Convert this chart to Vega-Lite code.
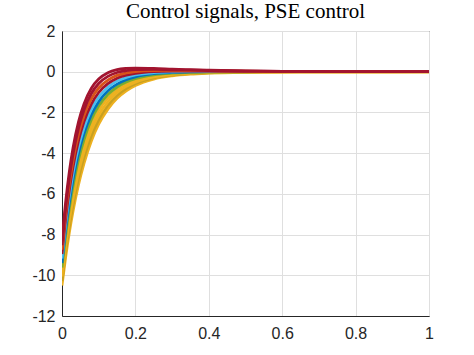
{
  "$schema": "https://vega.github.io/schema/vega-lite/v6.json",
  "width": 367,
  "height": 285,
  "autosize": {"type": "none"},
  "padding": {"left": 62, "top": 31, "right": 45, "bottom": 39},
  "background": "#ffffff",
  "view": {"stroke": "#262626", "strokeWidth": 1},
  "title": {"text": "Control signals, PSE control", "font": "Liberation Serif", "fontSize": 21, "fontWeight": "normal", "color": "#000000", "offset": 8, "dy": 7, "anchor": "middle"},
  "datasets": {
    "sig": [
      {"k":10,"t":0,"u":-10.50},{"k":10,"t":0.01,"u":-9.11},{"k":10,"t":0.02,"u":-7.90},{"k":10,"t":0.03,"u":-6.86},{"k":10,"t":0.045,"u":-5.55},{"k":10,"t":0.06,"u":-4.50},{"k":10,"t":0.08,"u":-3.40},{"k":10,"t":0.1,"u":-2.58},{"k":10,"t":0.125,"u":-1.84},{"k":10,"t":0.15,"u":-1.31},{"k":10,"t":0.175,"u":-0.94},{"k":10,"t":0.2,"u":-0.68},{"k":10,"t":0.25,"u":-0.36},{"k":10,"t":0.3,"u":-0.2},{"k":10,"t":0.35,"u":-0.115},{"k":10,"t":0.4,"u":-0.07},{"k":10,"t":0.5,"u":-0.027},{"k":10,"t":0.6,"u":-0.013},{"k":10,"t":0.7,"u":-0.006},{"k":10,"t":0.8,"u":-0.003},{"k":10,"t":1,"u":-0.001},
      {"k":9,"t":0,"u":-10.28},{"k":9,"t":0.01,"u":-8.84},{"k":9,"t":0.02,"u":-7.60},{"k":9,"t":0.03,"u":-6.55},{"k":9,"t":0.045,"u":-5.24},{"k":9,"t":0.06,"u":-4.21},{"k":9,"t":0.08,"u":-3.14},{"k":9,"t":0.1,"u":-2.36},{"k":9,"t":0.125,"u":-1.66},{"k":9,"t":0.15,"u":-1.17},{"k":9,"t":0.175,"u":-0.83},{"k":9,"t":0.2,"u":-0.59},{"k":9,"t":0.25,"u":-0.308},{"k":9,"t":0.3,"u":-0.167},{"k":9,"t":0.35,"u":-0.094},{"k":9,"t":0.4,"u":-0.056},{"k":9,"t":0.5,"u":-0.021},{"k":9,"t":0.6,"u":-0.009},{"k":9,"t":0.7,"u":-0.004},{"k":9,"t":0.8,"u":-0.002},{"k":9,"t":1,"u":-0.001},
      {"k":8,"t":0,"u":-10.06},{"k":8,"t":0.01,"u":-8.57},{"k":8,"t":0.02,"u":-7.30},{"k":8,"t":0.03,"u":-6.24},{"k":8,"t":0.045,"u":-4.93},{"k":8,"t":0.06,"u":-3.92},{"k":8,"t":0.08,"u":-2.88},{"k":8,"t":0.1,"u":-2.14},{"k":8,"t":0.125,"u":-1.48},{"k":8,"t":0.15,"u":-1.03},{"k":8,"t":0.175,"u":-0.72},{"k":8,"t":0.2,"u":-0.51},{"k":8,"t":0.25,"u":-0.255},{"k":8,"t":0.3,"u":-0.134},{"k":8,"t":0.35,"u":-0.072},{"k":8,"t":0.4,"u":-0.042},{"k":8,"t":0.5,"u":-0.014},{"k":8,"t":0.6,"u":-0.006},{"k":8,"t":0.7,"u":-0.002},{"k":8,"t":0.8,"u":-0.001},{"k":8,"t":1,"u":-0.001},
      {"k":7,"t":0,"u":-9.84},{"k":7,"t":0.01,"u":-8.30},{"k":7,"t":0.02,"u":-7.00},{"k":7,"t":0.03,"u":-5.93},{"k":7,"t":0.045,"u":-4.62},{"k":7,"t":0.06,"u":-3.62},{"k":7,"t":0.08,"u":-2.62},{"k":7,"t":0.1,"u":-1.91},{"k":7,"t":0.125,"u":-1.30},{"k":7,"t":0.15,"u":-0.89},{"k":7,"t":0.175,"u":-0.61},{"k":7,"t":0.2,"u":-0.42},{"k":7,"t":0.25,"u":-0.203},{"k":7,"t":0.3,"u":-0.101},{"k":7,"t":0.35,"u":-0.051},{"k":7,"t":0.4,"u":-0.027},{"k":7,"t":0.5,"u":-0.008},{"k":7,"t":0.6,"u":-0.003},{"k":7,"t":0.7,"u":-0.001},{"k":7,"t":0.8,"u":-0.001},{"k":7,"t":1,"u":0},
      {"k":6,"t":0,"u":-9.62},{"k":6,"t":0.01,"u":-8.03},{"k":6,"t":0.02,"u":-6.70},{"k":6,"t":0.03,"u":-5.62},{"k":6,"t":0.045,"u":-4.31},{"k":6,"t":0.06,"u":-3.33},{"k":6,"t":0.08,"u":-2.36},{"k":6,"t":0.1,"u":-1.69},{"k":6,"t":0.125,"u":-1.12},{"k":6,"t":0.15,"u":-0.75},{"k":6,"t":0.175,"u":-0.50},{"k":6,"t":0.2,"u":-0.34},{"k":6,"t":0.25,"u":-0.15},{"k":6,"t":0.3,"u":-0.068},{"k":6,"t":0.35,"u":-0.029},{"k":6,"t":0.4,"u":-0.013},{"k":6,"t":0.5,"u":-0.001},{"k":6,"t":0.6,"u":0.001},{"k":6,"t":0.7,"u":0.001},{"k":6,"t":0.8,"u":0},{"k":6,"t":1,"u":0},
      {"k":5,"t":0,"u":-9.40},{"k":5,"t":0.01,"u":-7.76},{"k":5,"t":0.02,"u":-6.41},{"k":5,"t":0.03,"u":-5.31},{"k":5,"t":0.045,"u":-4.01},{"k":5,"t":0.06,"u":-3.04},{"k":5,"t":0.08,"u":-2.11},{"k":5,"t":0.1,"u":-1.47},{"k":5,"t":0.125,"u":-0.94},{"k":5,"t":0.15,"u":-0.61},{"k":5,"t":0.175,"u":-0.39},{"k":5,"t":0.2,"u":-0.25},{"k":5,"t":0.25,"u":-0.098},{"k":5,"t":0.3,"u":-0.035},{"k":5,"t":0.35,"u":-0.008},{"k":5,"t":0.4,"u":0.001},{"k":5,"t":0.5,"u":0.006},{"k":5,"t":0.6,"u":0.004},{"k":5,"t":0.7,"u":0.002},{"k":5,"t":0.8,"u":0.001},{"k":5,"t":1,"u":0},
      {"k":4,"t":0,"u":-9.18},{"k":4,"t":0.01,"u":-7.48},{"k":4,"t":0.02,"u":-6.11},{"k":4,"t":0.03,"u":-4.99},{"k":4,"t":0.045,"u":-3.70},{"k":4,"t":0.06,"u":-2.75},{"k":4,"t":0.08,"u":-1.85},{"k":4,"t":0.1,"u":-1.25},{"k":4,"t":0.125,"u":-0.77},{"k":4,"t":0.15,"u":-0.46},{"k":4,"t":0.175,"u":-0.28},{"k":4,"t":0.2,"u":-0.16},{"k":4,"t":0.25,"u":-0.045},{"k":4,"t":0.3,"u":-0.002},{"k":4,"t":0.35,"u":0.013},{"k":4,"t":0.4,"u":0.015},{"k":4,"t":0.5,"u":0.012},{"k":4,"t":0.6,"u":0.007},{"k":4,"t":0.7,"u":0.004},{"k":4,"t":0.8,"u":0.002},{"k":4,"t":1,"u":0},
      {"k":3,"t":0,"u":-8.96},{"k":3,"t":0.01,"u":-7.21},{"k":3,"t":0.02,"u":-5.81},{"k":3,"t":0.03,"u":-4.68},{"k":3,"t":0.045,"u":-3.39},{"k":3,"t":0.06,"u":-2.45},{"k":3,"t":0.08,"u":-1.59},{"k":3,"t":0.1,"u":-1.02},{"k":3,"t":0.125,"u":-0.59},{"k":3,"t":0.15,"u":-0.32},{"k":3,"t":0.175,"u":-0.17},{"k":3,"t":0.2,"u":-0.08},{"k":3,"t":0.25,"u":0.008},{"k":3,"t":0.3,"u":0.031},{"k":3,"t":0.35,"u":0.035},{"k":3,"t":0.4,"u":0.029},{"k":3,"t":0.5,"u":0.019},{"k":3,"t":0.6,"u":0.01},{"k":3,"t":0.7,"u":0.005},{"k":3,"t":0.8,"u":0.003},{"k":3,"t":1,"u":0.001},
      {"k":2,"t":0,"u":-8.74},{"k":2,"t":0.01,"u":-6.94},{"k":2,"t":0.02,"u":-5.51},{"k":2,"t":0.03,"u":-4.37},{"k":2,"t":0.045,"u":-3.08},{"k":2,"t":0.06,"u":-2.16},{"k":2,"t":0.08,"u":-1.33},{"k":2,"t":0.1,"u":-0.80},{"k":2,"t":0.125,"u":-0.41},{"k":2,"t":0.15,"u":-0.18},{"k":2,"t":0.175,"u":-0.06},{"k":2,"t":0.2,"u":0.01},{"k":2,"t":0.25,"u":0.06},{"k":2,"t":0.3,"u":0.064},{"k":2,"t":0.35,"u":0.056},{"k":2,"t":0.4,"u":0.044},{"k":2,"t":0.5,"u":0.025},{"k":2,"t":0.6,"u":0.014},{"k":2,"t":0.7,"u":0.007},{"k":2,"t":0.8,"u":0.003},{"k":2,"t":1,"u":0.001},
      {"k":1,"t":0,"u":-8.52},{"k":1,"t":0.01,"u":-6.67},{"k":1,"t":0.02,"u":-5.21},{"k":1,"t":0.03,"u":-4.06},{"k":1,"t":0.045,"u":-2.77},{"k":1,"t":0.06,"u":-1.87},{"k":1,"t":0.08,"u":-1.07},{"k":1,"t":0.1,"u":-0.58},{"k":1,"t":0.125,"u":-0.23},{"k":1,"t":0.15,"u":-0.04},{"k":1,"t":0.175,"u":0.05},{"k":1,"t":0.2,"u":0.10},{"k":1,"t":0.25,"u":0.113},{"k":1,"t":0.3,"u":0.097},{"k":1,"t":0.35,"u":0.078},{"k":1,"t":0.4,"u":0.058},{"k":1,"t":0.5,"u":0.032},{"k":1,"t":0.6,"u":0.017},{"k":1,"t":0.7,"u":0.008},{"k":1,"t":0.8,"u":0.004},{"k":1,"t":1,"u":0.001},
      {"k":0,"t":0,"u":-8.30},{"k":0,"t":0.01,"u":-6.40},{"k":0,"t":0.02,"u":-4.91},{"k":0,"t":0.03,"u":-3.75},{"k":0,"t":0.045,"u":-2.46},{"k":0,"t":0.06,"u":-1.58},{"k":0,"t":0.08,"u":-0.81},{"k":0,"t":0.1,"u":-0.36},{"k":0,"t":0.125,"u":-0.05},{"k":0,"t":0.15,"u":0.10},{"k":0,"t":0.175,"u":0.16},{"k":0,"t":0.2,"u":0.18},{"k":0,"t":0.25,"u":0.165},{"k":0,"t":0.3,"u":0.13},{"k":0,"t":0.35,"u":0.099},{"k":0,"t":0.4,"u":0.072},{"k":0,"t":0.5,"u":0.038},{"k":0,"t":0.6,"u":0.02},{"k":0,"t":0.7,"u":0.01},{"k":0,"t":0.8,"u":0.005},{"k":0,"t":1,"u":0.002}
    ]
  },
  "data": {"name": "sig"},
  "mark": {"type": "line", "interpolate": "monotone", "strokeWidth": 2.8, "clip": true},
  "encoding": {
    "x": {
      "field": "t", "type": "quantitative",
      "scale": {"domain": [0, 1], "nice": false, "zero": false},
      "axis": {"title": null, "values": [0, 0.2, 0.4, 0.6, 0.8, 1], "labelExpr": "'' + datum.value", "labelPadding": 9, "labelFlush": false}
    },
    "y": {
      "field": "u", "type": "quantitative",
      "scale": {"domain": [-12, 2], "nice": false, "zero": false},
      "axis": {"title": null, "values": [-12, -10, -8, -6, -4, -2, 0, 2], "labelExpr": "'' + datum.value", "labelPadding": 7, "labelFlush": false}
    },
    "color": {
      "field": "k", "type": "nominal", "legend": null, "sort": null,
      "scale": {"domain": [10, 9, 8, 7, 6, 5, 4, 3, 2, 1, 0], "range": ["#EDB120", "#C8A020", "#EDB120", "#EDB120", "#77AC30", "#0072BD", "#4DBEEE", "#A2142F", "#D95319", "#A2142F", "#A2142F"]}
    }
  },
  "config": {
    "axis": {
      "labelFont": "Liberation Sans", "labelFontSize": 16, "labelColor": "#262626",
      "domainColor": "#262626", "domainWidth": 1,
      "ticks": false,
      "grid": true, "gridColor": "#dfdfdf", "gridWidth": 1
    }
  }
}
